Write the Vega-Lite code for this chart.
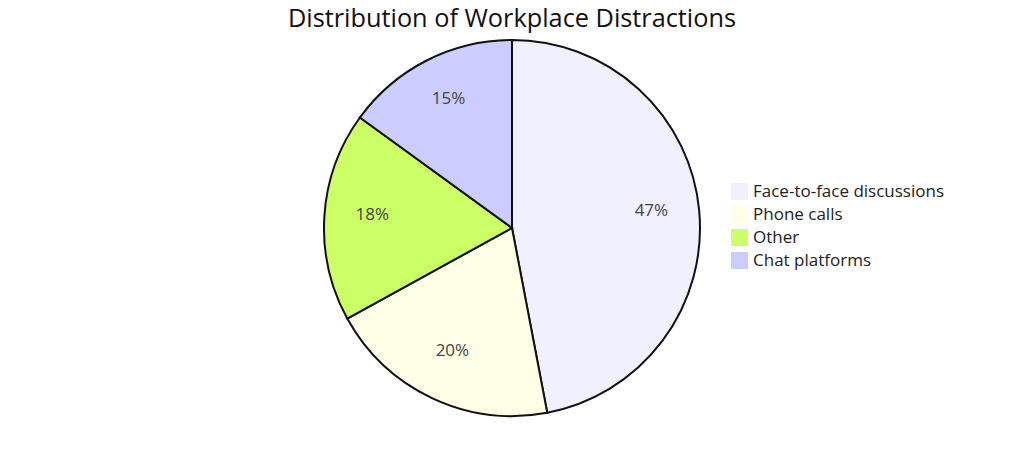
{
  "$schema": "https://vega.github.io/schema/vega-lite/v6.json",
  "width": 1024,
  "height": 376,
  "autosize": {"type": "none"},
  "padding": {"top": 40, "left": 0, "right": 0, "bottom": 41},
  "background": "white",
  "title": {"text": "Distribution of Workplace Distractions", "font": "Open Sans", "fontSize": 25.3, "fontWeight": "normal", "color": "#111", "anchor": "middle", "offset": 4},
  "config": {"view": {"stroke": null}},
  "data": {"values": [
    {"category": "Face-to-face discussions", "value": 47, "idx": 1},
    {"category": "Phone calls", "value": 20, "idx": 2},
    {"category": "Other", "value": 18, "idx": 3},
    {"category": "Chat platforms", "value": 15, "idx": 4}
  ]},
  "transform": [{"calculate": "datum.value + '%'", "as": "label"}],
  "encoding": {
    "theta": {"field": "value", "type": "quantitative", "stack": true},
    "order": {"field": "idx", "type": "quantitative"},
    "color": {
      "field": "category", "type": "nominal",
      "sort": ["Face-to-face discussions", "Phone calls", "Other", "Chat platforms"],
      "scale": {"domain": ["Face-to-face discussions", "Phone calls", "Other", "Chat platforms"], "range": ["#f0f0ff", "#ffffe8", "#ccff66", "#ccccff"]},
      "legend": {"title": null, "orient": "none", "legendX": 731, "legendY": 143, "symbolType": "square", "symbolSize": 289, "symbolStrokeWidth": 0, "symbolOpacity": 1, "labelFont": "Open Sans", "labelFontSize": 17, "labelColor": "#222", "labelLimit": 400, "rowPadding": 5, "labelOffset": 5}
    }
  },
  "layer": [
    {"mark": {"type": "arc", "outerRadius": 188, "stroke": "#111", "strokeWidth": 2}},
    {"mark": {"type": "text", "radius": 140, "dy": -4, "font": "Open Sans", "fontSize": 17, "fill": "#444"}, "encoding": {"text": {"field": "label"}, "color": {"value": "#444"}}}
  ]
}
